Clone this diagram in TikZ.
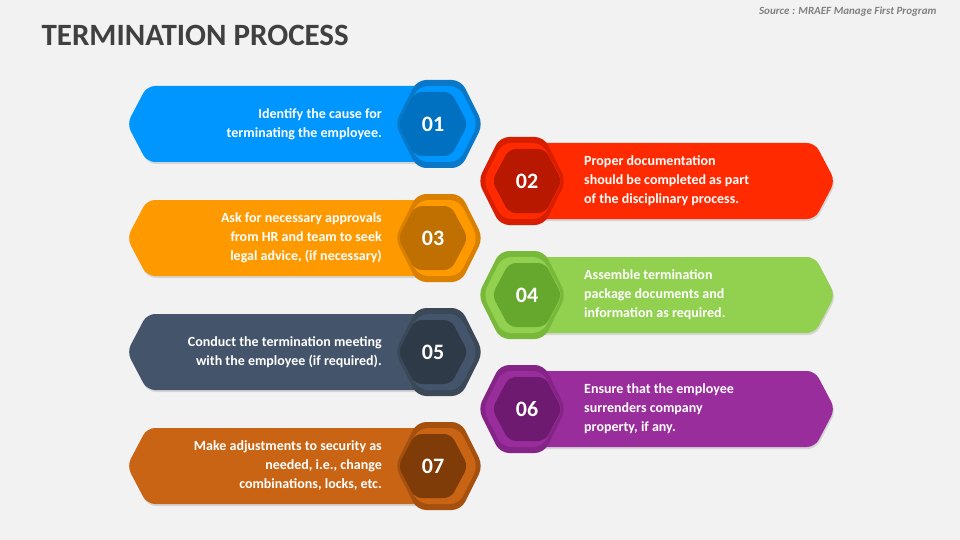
\documentclass[tikz,border=0pt]{standalone}
\usepackage{fontspec}
\setmainfont{Carlito}
\usetikzlibrary{shadows}
\definecolor{bgc}{HTML}{F2F2F2}
\definecolor{titlec}{HTML}{404040}
\definecolor{blueA}{HTML}{0096FF}\definecolor{blueB}{HTML}{0A78C8}\definecolor{blueC}{HTML}{0070C0}
\definecolor{redA}{HTML}{FF2A00}\definecolor{redB}{HTML}{D81E00}\definecolor{redC}{HTML}{B81800}
\definecolor{orgA}{HTML}{FF9900}\definecolor{orgB}{HTML}{D98000}\definecolor{orgC}{HTML}{BF7000}
\definecolor{grnA}{HTML}{92D050}\definecolor{grnB}{HTML}{78B83A}\definecolor{grnC}{HTML}{66A82E}
\definecolor{slaA}{HTML}{44546A}\definecolor{slaB}{HTML}{3A4858}\definecolor{slaC}{HTML}{2E3A48}
\definecolor{purA}{HTML}{9A2D9C}\definecolor{purB}{HTML}{852487}\definecolor{purC}{HTML}{6E1A70}
\definecolor{brnA}{HTML}{C86414}\definecolor{brnB}{HTML}{A65010}\definecolor{brnC}{HTML}{803C08}
\tikzset{
  banner/.style={rounded corners=8pt, drop shadow={opacity=0.25,shadow xshift=1pt,shadow yshift=-2pt}},
  hexout/.style={rounded corners=9pt},
  hexin/.style={rounded corners=7pt},
  steptext/.style={text=white, font=\fontsize{14}{19}\selectfont\bfseries, inner sep=0pt},
  numtext/.style={text=white, font=\fontsize{22}{24}\selectfont\bfseries}
}
\begin{document}
\begin{tikzpicture}[x=1pt,y=-1pt]
  \fill[bgc] (0,0) rectangle (960,540);
  \useasboundingbox (0,0) rectangle (960,540);

  % title and source
  \node[anchor=west, text=titlec, font=\fontsize{31}{34}\selectfont\bfseries] (title) at (38,35) {TERMINATION PROCESS};
  \node[anchor=east, text=gray, font=\fontsize{11}{12}\selectfont\bfseries\itshape] (source) at (940,12) {Source : MRAEF Manage First Program};

  % left steps
  \foreach \y/\ca/\cb/\cc/\num/\txt in {
      124/blueA/blueB/blueC/01/{Identify the cause for\\terminating the employee.},
      238/orgA/orgB/orgC/03/{Ask for necessary approvals\\from HR and team to seek\\legal advice, (if necessary)},
      352/slaA/slaB/slaC/05/{Conduct the termination meeting\\with the employee (if required).},
      466/brnA/brnB/brnC/07/{Make adjustments to security as\\needed, i.e., change\\combinations, locks, etc.}}{
    \fill[\ca, banner] (127,\y) -- (147,\y-38) -- (460,\y-38) -- (460,\y+38) -- (147,\y+38) -- cycle;
    \fill[\cb, hexout] (395,\y) -- (417,\y-44) -- (461,\y-44) -- (483,\y) -- (461,\y+44) -- (417,\y+44) -- cycle;
    \fill[\ca, hexout] (398,\y) -- (419,\y-38) -- (459,\y-38) -- (478,\y) -- (459,\y+38) -- (419,\y+38) -- cycle;
    \fill[\cc, hexin] (398,\y) -- (415,\y-32) -- (451,\y-32) -- (468,\y) -- (451,\y+32) -- (415,\y+32) -- cycle;
    \node[numtext] (num\num) at (433,\y) {\num};
    \node[steptext, anchor=east, align=right] (txt\num) at (382,\y) {\txt};
  }

  % right steps
  \foreach \y/\ca/\cb/\cc/\num/\txt in {
      181/redA/redB/redC/02/{Proper documentation\\should be completed as part\\of the disciplinary process.},
      295/grnA/grnB/grnC/04/{Assemble termination\\package documents and\\information as required.},
      409/purA/purB/purC/06/{Ensure that the employee\\surrenders company\\property, if any.}}{
    \fill[\ca, banner] (500,\y-38) -- (815,\y-38) -- (835,\y) -- (815,\y+38) -- (500,\y+38) -- cycle;
    \fill[\cb, hexout] (478,\y) -- (500,\y-44) -- (544,\y-44) -- (566,\y) -- (544,\y+44) -- (500,\y+44) -- cycle;
    \fill[\ca, hexout] (483,\y) -- (502,\y-38) -- (542,\y-38) -- (563,\y) -- (542,\y+38) -- (502,\y+38) -- cycle;
    \fill[\cc, hexin] (492,\y) -- (509,\y-32) -- (545,\y-32) -- (562,\y) -- (545,\y+32) -- (509,\y+32) -- cycle;
    \node[numtext] (num\num) at (527,\y) {\num};
    \node[steptext, anchor=west, align=left] (txt\num) at (584,\y) {\txt};
  }
\end{tikzpicture}
\end{document}
